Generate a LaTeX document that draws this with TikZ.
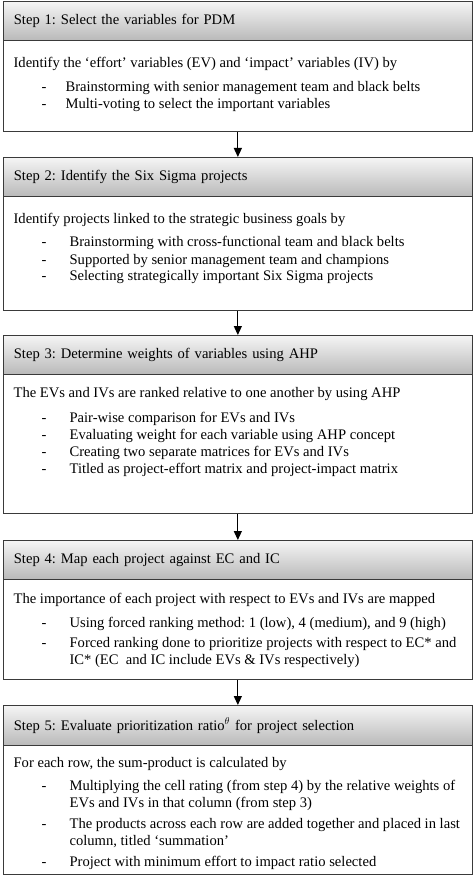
\documentclass[tikz,border=0pt]{standalone}
\usepackage{fontspec}
\setmainfont{Liberation Serif}
\usepackage{tikz}
\usetikzlibrary{arrows.meta}
\definecolor{edgegray}{HTML}{3A3A3A}
\frenchspacing

\begin{document}
\begin{tikzpicture}[x=1pt, y=1pt, line width=1.2pt,
  head/.style={draw=edgegray, top color=gray!8, bottom color=gray!55, anchor=north west,
    minimum width=469.5pt, minimum height=39pt, text width=448pt, inner xsep=10.75pt,
    align=left, font=\fontsize{14.6}{17}\selectfont},
  body/.style={draw=edgegray, fill=white, anchor=north west, minimum width=469.5pt, inner sep=0pt},
  txt/.style={anchor=base west, inner sep=0pt, font=\fontsize{14.6}{17}\selectfont},
  arr/.style={draw=black, -{Triangle[width=8pt,length=9pt]}}]
\useasboundingbox (0,0) rectangle (474,-877);
% step 1
\node[body, minimum height=91pt] (b1) at (2.5,-40) {};
\node[head] (h1) at (2.5,-1) {Step 1: Select the variables for PDM};
\node[txt] (t1) at (13,-67.5) {\begin{tabular}[t]{@{}p{52pt}@{}l@{}}
\multicolumn{2}{@{}l@{}}{Identify the ‘effort’ variables (EV) and ‘impact’ variables (IV) by}\\[7pt]
\hspace*{28pt}- & Brainstorming with senior management team and black belts\\
\hspace*{28pt}- & Multi-voting to select the important variables
\end{tabular}};
% step 2
\node[body, minimum height=114pt] (b2) at (2.5,-196) {};
\node[head] (h2) at (2.5,-157) {Step 2: Identify the Six Sigma projects};
\node[txt] (t2) at (13,-224) {\begin{tabular}[t]{@{}p{56pt}@{}l@{}}
\multicolumn{2}{@{}l@{}}{Identify projects linked to the strategic business goals by}\\[6pt]
\hspace*{28pt}- & Brainstorming with cross-functional team and black belts\\
\hspace*{28pt}- & Supported by senior management team and champions\\
\hspace*{28pt}- & Selecting strategically important Six Sigma projects
\end{tabular}};
% step 3
\node[body, minimum height=139pt] (b3) at (2.5,-374) {};
\node[head] (h3) at (2.5,-335) {Step 3: Determine weights of variables using AHP};
\node[txt] (t3) at (13,-397.5) {\begin{tabular}[t]{@{}p{56pt}@{}l@{}}
\multicolumn{2}{@{}l@{}}{The EVs and IVs are ranked relative to one another by using AHP}\\[8pt]
\hspace*{28pt}- & Pair-wise comparison for EVs and IVs\\
\hspace*{28pt}- & Evaluating weight for each variable using AHP concept\\
\hspace*{28pt}- & Creating two separate matrices for EVs and IVs\\
\hspace*{28pt}- & Titled as project-effort matrix and project-impact matrix
\end{tabular}};
% step 4
\node[body, minimum height=100pt] (b4) at (2.5,-579) {};
\node[head] (h4) at (2.5,-540) {Step 4: Map each project against EC and IC};
\node[txt] (t4) at (13,-603.5) {\begin{tabular}[t]{@{}p{56pt}@{}l@{}}
\multicolumn{2}{@{}l@{}}{The importance of each project with respect to EVs and IVs are mapped}\\[7pt]
\hspace*{28pt}- & Using forced ranking method: 1 (low), 4 (medium), and 9 (high)\\[3pt]
\hspace*{28pt}- & Forced ranking done to prioritize projects with respect to EC* and\\
 & IC* (EC\ \ and IC include EVs \& IVs respectively)
\end{tabular}};
% step 5
\node[body, minimum height=130pt] (b5) at (2.5,-744) {};
\node[head, minimum height=40pt] (h5) at (2.5,-705) {Step 5: Evaluate prioritization ratio$^{\theta}$ for project selection};
\node[txt] (t5) at (13,-767) {\begin{tabular}[t]{@{}p{56pt}@{}l@{}}
\multicolumn{2}{@{}l@{}}{For each row, the sum-product is calculated by}\\[6pt]
\hspace*{28pt}- & Multiplying the cell rating (from step 4) by the relative weights of\\
 & EVs and IVs in that column (from step 3)\\[4pt]
\hspace*{28pt}- & The products across each row are added together and placed in last\\
 & column, titled ‘summation’\\[4pt]
\hspace*{28pt}- & Project with minimum effort to impact ratio selected
\end{tabular}};
% arrows
\foreach \i/\j in {1/2,2/3,3/4,4/5}
  \draw[arr] (b\i.south) -- (h\j.north);
\end{tikzpicture}
\end{document}
